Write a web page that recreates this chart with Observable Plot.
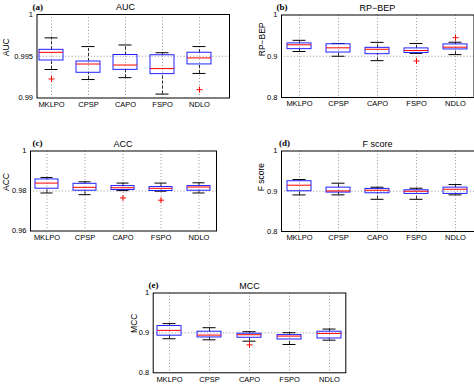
<!DOCTYPE html>
<html>
<head>
<meta charset="utf-8">
<script src="https://cdn.jsdelivr.net/npm/d3@7"></script>
<script src="https://cdn.jsdelivr.net/npm/@observablehq/plot@0.6"></script>
<style>
  html, body { margin: 0; padding: 0; background: #fff; }
  #fig { position: relative; width: 474px; height: 384px; overflow: hidden; background: #fff; }
  #fig svg { position: absolute; overflow: visible; background: transparent; }
</style>
</head>
<body>
<div id="fig"></div>
<script>
// ---------- data ----------
const categories = ["MKLPO", "CPSP", "CAPO", "FSPO", "NDLO"];

// AUC
const aucHigh   = [0.9972, 0.99616, 0.99635, 0.99542, 0.99616];
const aucQ3     = [0.99577, 0.99437, 0.99515, 0.99512, 0.99542];
const aucMedian = [0.99547, 0.99407, 0.99395, 0.99352, 0.9948];
const aucQ1     = [0.99449, 0.99302, 0.99337, 0.99286, 0.99402];
const aucLow    = [0.99341, 0.99221, 0.99244, 0.99047, 0.99294];
const aucOutliers = [["MKLPO", 0.99228], ["NDLO", 0.9910]];
const aucTicks  = [0.99, 0.995, 1];

// RP-BEP
const bepHigh   = [0.9386, 0.931, 0.9336, 0.931, 0.934];
const bepQ3     = [0.9312, 0.929, 0.9204, 0.919, 0.9287];
const bepMedian = [0.9278, 0.9204, 0.917, 0.914, 0.922];
const bepQ1     = [0.9172, 0.909, 0.905, 0.908, 0.9165];
const bepLow    = [0.9115, 0.900, 0.8893, 0.907, 0.904];
const bepOutliers = [["FSPO", 0.8885], ["NDLO", 0.945]];
const bepTicks  = [0.8, 0.9, 1];

// ACC
const accHigh   = [0.98677, 0.98459, 0.98395, 0.98395, 0.9841];
const accQ3     = [0.98578, 0.9836, 0.98247, 0.98198, 0.98247];
const accMedian = [0.98395, 0.98183, 0.98163, 0.98133, 0.98198];
const accQ1     = [0.98114, 0.98015, 0.98049, 0.980, 0.98015];
const accLow    = [0.97901, 0.97817, 0.9802, 0.9799, 0.97901];
const accOutliers = [["CAPO", 0.97654], ["FSPO", 0.9754]];
const accTicks  = [0.96, 0.98, 1];

// F score
const fHigh   = [0.9291, 0.920, 0.910, 0.9075, 0.9166];
const fQ3     = [0.9249, 0.909, 0.9058, 0.9025, 0.909];
const fMedian = [0.915, 0.9008, 0.9025, 0.900, 0.905];
const fQ1     = [0.900, 0.8967, 0.895, 0.8934, 0.8934];
const fLow    = [0.8909, 0.891, 0.880, 0.880, 0.891];
const fOutliers = [];
const fTicks  = [0.8, 0.9, 1];

// MCC
const mccHigh   = [0.9233, 0.913, 0.903, 0.9005, 0.9096];
const mccQ3     = [0.9172, 0.903, 0.898, 0.8945, 0.903];
const mccMedian = [0.9063, 0.8945, 0.8954, 0.892, 0.8987];
const mccQ1     = [0.893, 0.8886, 0.8878, 0.8835, 0.886];
const mccLow    = [0.8853, 0.8827, 0.8793, 0.871, 0.8818];
const mccOutliers = [["CAPO", 0.870]];
const mccTicks  = [0.8, 0.9, 1];

// ---------- helpers ----------
function rowsOf(low, q1, med, q3, high) {
  return categories.map((c, i) => ({cat: c, lo: low[i], q1: q1[i], med: med[i], q3: q3[i], hi: high[i]}));
}
const plusSymbol = {
  draw(context, size) {
    const r = Math.sqrt(size / Math.PI);
    context.moveTo(-r, 0); context.lineTo(r, 0);
    context.moveTo(0, -r); context.lineTo(0, r);
  }
};
const SANS = "'Liberation Sans', Arial, Helvetica, sans-serif";
const SERIF = "'Liberation Serif', 'Times New Roman', serif";

function panel(cfg) {
  const [L, T, R, B] = cfg.frame;
  const [left, top, w, h] = cfg.box;
  const [c0, c4] = cfg.centers;
  const boxW = 24;
  const spacing = (c4 - c0) / 4;
  const rows = rowsOf(...cfg.stats);
  const outs = cfg.outliers.map(([c, v]) => ({cat: c, v}));
  const grid = {stroke: "#8a8a8a", strokeDasharray: "1,2.2", strokeWidth: 0.9};
  const svg = Plot.plot({
    width: w,
    height: h,
    marginLeft: L - left,
    marginTop: T - top,
    marginRight: left + w - R,
    marginBottom: top + h - B,
    style: {fontFamily: SANS, background: "transparent", overflow: "visible"},
    x: {type: "band", domain: categories, range: [c0 - boxW / 2 - left, c4 + boxW / 2 - left],
        paddingInner: 1 - boxW / spacing, paddingOuter: 0},
    y: {domain: [cfg.ticks[0], cfg.ticks[2]]},
    marks: [
      Plot.ruleX(categories, {x: d => d, ...grid}),
      Plot.ruleY([cfg.ticks[1]], {y: d => d, ...grid}),
      Plot.ruleX(rows, {x: "cat", y1: "q3", y2: "hi", stroke: "black", strokeWidth: 0.8, strokeDasharray: "3,2"}),
      Plot.ruleX(rows, {x: "cat", y1: "lo", y2: "q1", stroke: "black", strokeWidth: 0.8, strokeDasharray: "3,2"}),
      Plot.tickY(rows, {x: "cat", y: "hi", stroke: "black", strokeWidth: 1, insetLeft: 5.5, insetRight: 5.5}),
      Plot.tickY(rows, {x: "cat", y: "lo", stroke: "black", strokeWidth: 1, insetLeft: 5.5, insetRight: 5.5}),
      Plot.barY(rows, {x: "cat", y1: "q1", y2: "q3", fill: "none", stroke: "#2020ff", strokeWidth: 1}),
      Plot.tickY(rows, {x: "cat", y: "med", stroke: "#ff0000", strokeWidth: 1}),
      Plot.dot(outs, {x: "cat", y: "v", symbol: plusSymbol, r: 3, stroke: "#ff0000", fill: "none", strokeWidth: 1}),
      Plot.frame({stroke: "black", strokeWidth: 1}),
      Plot.axisY(cfg.ticks, {tickSize: 0, tickPadding: 4, fontSize: 7.5, tickFormat: d => String(d), label: null}),
      Plot.axisX({tickSize: 0, tickPadding: 3.5, fontSize: 7.5, label: null}),
      Plot.text([cfg.title], {x: () => categories[2], frameAnchor: "top", lineAnchor: "middle", dy: -7,
                               fontSize: 9, fill: "black"}),
      Plot.text([cfg.ylabel], {frameAnchor: "left", rotate: -90, dx: cfg.ylabelDx, fontSize: 8.5, fill: "black"}),
      Plot.text([cfg.tag], {frameAnchor: "top-left", textAnchor: "start", lineAnchor: "middle", dx: cfg.tagDx, dy: -7.5,
                             fontSize: 9, fontWeight: "bold", fontFamily: SERIF, fill: "black"})
    ]
  });
  svg.style.left = left + "px";
  svg.style.top = top + "px";
  document.getElementById("fig").appendChild(svg);
}

panel({tag: "(a)", title: "AUC", ylabel: "AUC", ticks: aucTicks,
       stats: [aucLow, aucQ1, aucMedian, aucQ3, aucHigh], outliers: aucOutliers,
       frame: [36.5, 14, 229, 97.5], centers: [49.7, 200.2], box: [0, 0, 237, 125],
       ylabelDx: -30.5, tagDx: -4.5});
panel({tag: "(b)", title: "RP\u2212BEP", ylabel: "RP\u2212BEP", ticks: bepTicks,
       stats: [bepLow, bepQ1, bepMedian, bepQ3, bepHigh], outliers: bepOutliers,
       frame: [281, 14.5, 473.5, 97], centers: [297.3, 456], box: [237, 0, 237, 125],
       ylabelDx: -19, tagDx: -5});
panel({tag: "(c)", title: "ACC", ylabel: "ACC", ticks: accTicks,
       stats: [accLow, accQ1, accMedian, accQ3, accHigh], outliers: accOutliers,
       frame: [30, 150.5, 216, 230.5], centers: [44.5, 200.3], box: [0, 130, 237, 125],
       ylabelDx: -24.5, tagDx: 2});
panel({tag: "(d)", title: "F score", ylabel: "F score", ticks: fTicks,
       stats: [fLow, fQ1, fMedian, fQ3, fHigh], outliers: fOutliers,
       frame: [281, 150.5, 474, 231], centers: [297.7, 456.7], box: [237, 130, 237, 125],
       ylabelDx: -20, tagDx: -2.5});
panel({tag: "(e)", title: "MCC", ylabel: "MCC", ticks: mccTicks,
       stats: [mccLow, mccQ1, mccMedian, mccQ3, mccHigh], outliers: mccOutliers,
       frame: [152.7, 292.5, 345.3, 372.3], centers: [168.7, 329.2], box: [110, 262, 260, 122],
       ylabelDx: -18.7, tagDx: -4.7});
</script>
</body>
</html>
